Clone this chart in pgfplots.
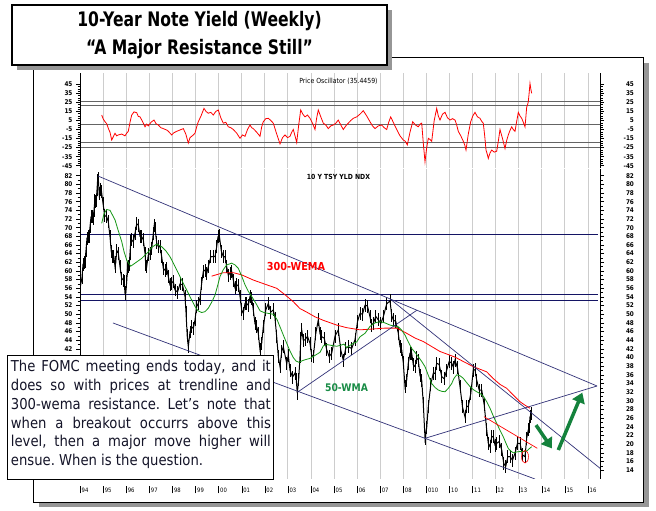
\documentclass[border=0pt]{standalone}
\usepackage{fontspec}
\usepackage{pgfplots}
\pgfplotsset{compat=1.18}
\usetikzlibrary{arrows.meta}
\frenchspacing
\newfontfamily\tah[FakeStretch=0.88]{DejaVu Sans}
\newfontfamily\titlef[FakeStretch=0.78]{DejaVu Sans}
\definecolor{navyh}{RGB}{20,20,100}
\definecolor{navyl}{RGB}{50,50,120}
\definecolor{oscgrid}{RGB}{100,100,100}
\definecolor{vgrid}{RGB}{205,205,205}
\definecolor{wma}{RGB}{20,150,20}
\definecolor{wmalbl}{RGB}{25,140,70}
\definecolor{arrowg}{RGB}{20,130,60}
\definecolor{shadow}{RGB}{150,150,150}
\definecolor{txt}{RGB}{20,20,40}
\newcommand{\yl}[1]{\rule[-0.5pt]{0.6pt}{7pt}\hspace{1.2pt}#1}
\pgfplotsset{
  chartbase/.style={
    scale only axis, width=520pt,
    xmin=80, xmax=600,
    xtick={80,103.09,126.18,149.27,172.36,195.45,218.54,241.63,264.72,287.81,310.9,333.99,357.08,380.17,403.26,426.35,449.44,472.53,495.62,518.71,541.8,564.89,587.98},
    separate axis lines,
    x axis line style={draw=none},
    y axis line style={black, line width=0.6pt},
    xtick style={draw=none},
    tick align=outside,
    major tick length=4pt, minor tick length=2.5pt,
    ytick style={black, line width=0.5pt},
    minor y tick style={black, line width=0.4pt},
    /pgf/number format/assume math mode=true,
    yticklabel style={font=\tah\bfseries\fontsize{6.5}{7}\selectfont},
  },
  lowerbase/.style={chartbase, height=310pt, ymin=11.95, ymax=83.55,
    ytick={14,16,...,82}, minor y tick num=1, at={(80pt,32pt)}, anchor=south west},
  upperbase/.style={chartbase, height=95.5pt, ymin=-48.1, ymax=57.5,
    ytick={-45,-35,...,45}, minor y tick num=3, at={(80pt,342.5pt)}, anchor=south west},
}
\begin{document}
\begin{tikzpicture}
\path[use as bounding box, fill=white] (0,0) rectangle (656pt,511pt);
% frame
\fill[shadow] (39pt,4pt) rectangle (649pt,448pt);
\draw[black, line width=0.8pt, fill=white] (33pt,9pt) rectangle (643pt,454pt);

% upper panel (oscillator)
\begin{axis}[upperbase, xmajorgrids, grid style={vgrid, line width=0.8pt},
  xticklabels=\empty, ytick pos=left, yticklabel pos=left]
\addplot[oscgrid, line width=0.8pt] coordinates {(80,25.8)(600,25.8)};
\addplot[oscgrid, line width=0.8pt] coordinates {(80,21.3)(600,21.3)};
\addplot[oscgrid, line width=0.8pt] coordinates {(80,0.8)(600,0.8)};
\addplot[oscgrid, line width=0.8pt] coordinates {(80,-19)(600,-19)};
\addplot[oscgrid, line width=0.8pt] coordinates {(80,-24.7)(600,-24.7)};
\addplot[red, line width=0.8pt] coordinates {
(101.7,11)(103.3,6.5)(105,3.6)(106.7,1.5)(108.3,-3.7)(110,-8)(111.7,-16.6)(113.3,-13)(115,-9.2)(116.7,-12)(118.3,-11)(121.7,-10)(125,-12)(126.7,-9)(128.3,-7)(130,3)(131.7,11)(134,14.5)(136.7,13.6)(138.3,9.5)(140,9)(142.5,4)(145,-2)(146.7,1)(148.3,-1)(151,3)(154,5.5)(156,1.5)(158.3,0)(160.8,-3)(163.3,-4)(167.5,-6)(171.7,-11)(174,-8.5)(176.7,-7)(180,-5.5)(183.3,-4)(185.8,-10)(188.3,-20)(190,-14)(191.7,-12.5)(193.3,-11)(195,-9)(196.7,-2)(198.3,3.6)(201,10)(204,18.4)(206,15)(208.3,13)(210.8,14)(213.3,11)(215.8,15)(218.3,16.6)(220.8,8)(223.3,2)(225.8,3)(228.3,-2)(230.8,-3)(233.3,-5)(236.7,-9)(240,-14.7)(242.5,-11)(245,-12.5)(247.5,-5)(250,0)(251.7,-3)(253.3,-4)(256.7,-8)(260,-12.5)(261.7,-2)(263.3,3.6)(265.8,7)(268.3,7.4)(270.8,5)(273.3,2)(276.7,-10)(280,-21)(282.5,-14)(285,-11)(287.5,-14)(290,-12.5)(291.7,-8)(293.3,-5)(295,-12)(296.7,-19.5)(298.7,0)(300.7,16.6)(302.8,12)(305,9)(307.5,11)(310,7.4)(312.5,2)(315,-5)(316.7,8)(318.3,16.6)(320.8,9)(323.3,2)(325.8,0)(328.3,-4)(330.8,-1)(333.3,0)(335.8,2)(338.3,5.5)(340.8,0)(343.3,-5)(345.8,-1)(348.3,2)(350.8,5)(353.3,7.4)(356.7,9)(360,12)(363.3,15.8)(366.7,10)(370,3.6)(372.5,-1)(375,-4)(378.3,-1)(381.7,0)(384.2,-3)(386.7,-5)(388.7,3)(390.7,9)(393.7,2)(396.7,-5)(400,-12)(403.3,-16.6)(405.3,-18)(407.3,-22)(410,-8)(412.7,3.6)(415.5,0)(418.3,-2)(420,1)(421.7,2)(423.3,-20)(425,-40.6)(426.7,-25)(428.3,-14.7)(430,-16)(431.7,-18)(434.2,5)(436.7,18.4)(438.3,10)(440,5.5)(442.5,12)(445,14)(447.5,8)(450,5.5)(452.5,7)(455,5.5)(456.7,0)(458.3,-7)(460.8,-12)(463.3,-18)(464.7,-22)(466,-27.7)(468.3,-10)(470.7,3.6)(472.8,10)(475,14)(477.5,9)(480,7.4)(481.7,4)(483.3,2)(484.7,-12)(486,-27.7)(487.2,-32)(488.3,-36.9)(490,-31)(491.7,-27.7)(494.2,-30)(496.7,-29)(498.3,-18)(500,-5)(502.5,-15)(505,-26)(506.7,-17)(508.3,-11)(510,-6)(511.7,-2)(513.3,-5)(515,-7)(516.7,4)(518.3,14)(520,10)(521.7,7.4)(523.3,3)(525,-2)(525.8,8)(526.7,20)(527.5,22)(528.3,25.8)(529.2,36)(530,46)(530.8,40)(531.7,35)};
\end{axis}
\begin{axis}[upperbase, xticklabels=\empty, ytick pos=right, yticklabel pos=right,
  yticklabel style={anchor=east, xshift=33.5pt}]
\end{axis}

% lower panel (price)
\begin{axis}[lowerbase, xmajorgrids, grid style={vgrid, line width=0.8pt},
  ytick={42,44,...,82}, ytick pos=left, yticklabel pos=left,
  xticklabels={\yl{94},\yl{95},\yl{96},\yl{97},\yl{98},\yl{99},\yl{00},\yl{01},\yl{02},\yl{03},\yl{04},\yl{05},\yl{06},\yl{07},\yl{08},\yl{010},\yl{10},\yl{11},\yl{12},\yl{13},\yl{14},\yl{15},\yl{16}},
  xticklabel style={anchor=north west, inner sep=0pt, yshift=-3.3pt, xshift=-0.3pt, font=\tah\fontsize{6}{6.5}\selectfont}]
% horizontal resistance lines
\addplot[navyh, line width=0.9pt] coordinates {(80,68.5)(598,68.5)};
\addplot[navyh, line width=0.9pt] coordinates {(80,54.6)(598,54.6)};
\addplot[navyh, line width=0.9pt] coordinates {(80,53.1)(598,53.1)};
% price (weekly)
\addplot[black, line width=1pt, error bars/.cd, y dir=both, y fixed=1.5, error mark=none,
  error bar style={black, line width=0.8pt}] coordinates {
(79,57.2)(80.5,56.6)(82,58.5)(83,61.5)(84,62)(85,62.2)(86,64.8)(87,67.6)(88,67.9)(89,67.9)(90,70.2)(91,72.5)(92,72.5)(93,72)(94,74)(94.8,76.2)(95.5,76)(96.2,76.2)(97,78.7)(97.6,81)(98.3,81.4)(99.2,77.8)(100,78.7)(101.5,78.4)(103,75.6)(104.8,72.8)(106.7,72.5)(108.3,71.4)(110,67.9)(111.3,64.4)(112.7,63.3)(113.8,63.4)(115,61)(115.8,62)(116.7,64.8)(118.3,64.1)(120,61)(121.7,58.3)(123.3,57.9)(124.2,57.5)(125,54.8)(125.8,55)(126.7,57.5)(127.5,60.5)(128.3,61)(129.2,61.4)(130,64.1)(130.8,66.9)(131.7,67.2)(133.3,66.7)(135,68.7)(136.7,70.9)(138.3,70.6)(140,68)(141.7,67.9)(143.3,67.2)(145,64.1)(145.8,61.4)(146.7,61)(148.3,63.7)(150,64)(151.7,65.1)(153.3,68.7)(154.2,70.5)(155,69.9)(156.7,66.5)(158.3,65.6)(160,65.6)(161.7,63.3)(163.3,60.6)(165,60.2)(166.7,60.6)(168.3,58.7)(170,56.8)(171.7,57.2)(173.3,57.6)(175,55.6)(177.5,55.1)(180,57)(182.5,56.8)(185,54.1)(186,50.5)(187.2,45)(188.3,42.5)(190,45.9)(191.7,47.1)(193.3,46.7)(195,48.7)(196.7,51.8)(198.3,52.5)(200,53.7)(201.7,57.2)(203.3,59.9)(205,60.2)(206.7,59.4)(208.3,61)(210.8,63.3)(213.3,63.3)(215,63.3)(216.7,65.6)(218,67.9)(219.3,68.3)(221.3,64.6)(223.3,63.3)(225,63.3)(226.7,61)(228.3,59)(230,59.5)(231.7,59.9)(233.3,57.9)(235,56.1)(236.7,56.8)(238.3,56.6)(240,54.1)(241.7,51)(243.3,50.2)(245,52.5)(246.7,52.5)(248.3,52.1)(250,54.1)(251.7,53.7)(253.3,51)(255,47.8)(256.7,47.1)(258.3,45.6)(260,41.8)(261.7,43.3)(263.3,47.1)(265.8,51)(268.3,52.5)(270.8,50.5)(273.3,51)(275,49.1)(276.7,44.8)(278.3,40.2)(280,37.9)(281.7,41.4)(283.3,42.5)(286.7,38.6)(288.3,40.5)(290,37.1)(292.5,35.5)(295,36.4)(296.2,35)(297.3,31.8)(298.7,35)(300,40.2)(300.8,44.5)(301.7,46.4)(303.3,44)(305,44.1)(307.5,44.9)(310,43.3)(311.7,40.5)(313.3,40.2)(315.8,45.6)(318.3,48.7)(320,45.5)(321.7,44.8)(324.2,44.5)(326.7,41.8)(329.2,40.2)(331.7,41)(335,44.9)(338.3,46.4)(340.8,41.7)(343.3,39.4)(345.8,42.2)(348.3,42.5)(351.7,42.1)(355,44.1)(357.5,48.3)(360,50.2)(362.5,50)(365,52.1)(367.5,51.9)(370,49.4)(371.7,47.5)(373.3,47.9)(375.8,49.5)(378.3,48.7)(380.8,47.9)(383.3,49.4)(386.7,52.4)(390,53.1)(391.7,49.7)(393.3,48.7)(395.8,48.3)(398.3,45.6)(400,42.5)(401.7,41.8)(403.3,38.8)(405,33.3)(406.7,34.8)(408.3,38.7)(410,41)(411.7,41)(413.3,38.3)(415,37.9)(416.7,39.9)(418.3,39.4)(420,35.9)(421.7,34.8)(423.3,29.3)(425,21.4)(426.7,23.8)(428.3,28.7)(430.8,33.8)(433.3,36.4)(435,36.3)(436.7,38.7)(439.2,38.4)(441.7,35.6)(444.2,35.1)(446.7,37.1)(449.2,39.1)(451.7,38.7)(453.3,37.8)(455,39.4)(457.5,37.6)(460,33.3)(462.5,28.6)(465,26.3)(466.7,28.7)(468.3,28.7)(470.8,31.7)(473.3,37.1)(475,37.2)(476.7,34.8)(479.2,32.5)(481.7,32.5)(484.2,29.1)(486.7,23.3)(488.3,20.2)(490,19.4)(491.7,21.8)(493.3,21.7)(495,19.8)(496.7,20.2)(499.2,20.6)(501.7,18.7)(503.7,15.6)(505.7,14.8)(507.8,17.1)(510,17.1)(512.5,16.3)(515,17.9)(517.5,20.2)(520,20.2)(522.5,17.5)(525,17.1)(526.7,21.4)(528.3,23.3)(529.2,24)(530,26.3)(531.7,27.1)};
% 300-WEMA
\addplot[red, line width=0.8pt] coordinates {
(211.7,58.8)(223.3,59.6)(233.3,59.6)(241.7,59.1)(253.3,57.9)(266.7,56.8)(276.7,56.0)(285,54.5)(293.3,52.9)(300,51.3)(306.7,50.5)(315,49.4)(323.3,48.6)(336.7,47.5)(346.7,46.9)(360,46.4)(373.3,46.6)(385,46.8)(396.7,46.8)(406.7,45.6)(415,44.5)(423.3,43.7)(432,42.5)(440,41.4)(447,40.8)(455,40.1)(464,39)(473.3,37.9)(480,37.3)(486.7,36.7)(493,35.2)(500,33.8)(506.7,32.9)(513,31.4)(520,29.8)(525,29.0)(530,28.3)};
% 50-WMA
\addplot[wma, line width=0.8pt] coordinates {
(101.7,71.0)(104,73.2)(106.7,74.2)(110,74.0)(115,71.8)(118,69.5)(121.7,66.8)(124,64.5)(126.7,62.5)(130.7,61.1)(135,61.8)(141.7,62.9)(148.3,64.4)(152,65.5)(156.7,66.2)(161.7,65.6)(166,64.6)(170,63.3)(174,61.5)(178.3,59.5)(182.5,57.5)(186.7,55.6)(191,53.6)(195,51.8)(198,50.8)(201.7,50.4)(205,50.6)(208.3,51.4)(211.7,52.8)(215,54.4)(217.5,56.5)(220,58.7)(223.3,60.3)(226.7,61.4)(231.7,61.8)(235,61.4)(238.3,60.6)(241.7,58.8)(245,56.8)(248.3,55.3)(251.7,54.1)(256,52.5)(260,50.8)(264,50.4)(268.3,50.2)(273.3,50.0)(277,48.8)(280,47.1)(283.3,45.2)(286.7,43.3)(290,41.5)(293.3,40.0)(296,39.2)(299,38.9)(302.5,39.3)(306.7,39.6)(310,39.8)(315,40.5)(320,41.2)(323.3,42.7)(326.7,43.0)(331.7,42.8)(336.7,42.6)(340,42.8)(344,43.1)(346.7,42.3)(350,42.8)(353.3,43.3)(356.7,43.6)(360,44.8)(365,45.6)(370,47.2)(375,48.0)(380,48.3)(385,48.0)(390,47.5)(394,47.3)(398.3,47.1)(401.7,46.3)(405,45.2)(408.3,43.6)(411.7,42.1)(415,41.2)(418.3,40.2)(421.7,39.1)(425,37.9)(428.3,35.9)(431.7,34.0)(435,33.1)(438.3,32.5)(441.7,32.2)(445,32.1)(448.3,32.9)(451.7,34.0)(454,35.2)(456.7,36.0)(460,35.8)(463.3,35.2)(466.7,34.2)(470,33.3)(473.3,32.6)(476.7,32.1)(480,31.7)(483.3,31.1)(486.7,29.8)(490,28.3)(493.3,26.5)(496.7,24.8)(500,23.2)(503.3,21.7)(505.8,20.3)(508.3,19.0)(510.8,18.4)(513.3,18.0)(516.7,18.2)(520,18.3)(523.3,18.3)(526.7,18.4)(529,18.9)(531.7,19.4)};
% trendlines
\addplot[navyl, line width=0.7pt] coordinates {(98,81.93)(597,33.43)};
\addplot[navyl, line width=0.7pt] coordinates {(390,53.55)(600,14.43)};
\addplot[navyl, line width=0.7pt] coordinates {(297.5,32.0)(416.7,50.9)};
\addplot[navyl, line width=0.7pt] coordinates {(113,47.98)(535,11.95)};
\addplot[navyl, line width=0.7pt] coordinates {(425,21.34)(597,33.43)};
\addplot[red, line width=0.7pt] coordinates {(484,26.34)(537.3,19.04)};
\addplot[red, only marks, mark=o, mark size=6.3pt, mark options={xscale=0.55, line width=0.6pt}] coordinates {(525,17.1)};
% arrows
\addplot[arrowg, line width=3.5pt, -{Triangle[length=10pt,width=13pt]}] coordinates {(536,24.4)(552,19.0)};
\addplot[arrowg, line width=3.5pt, -{Triangle[length=10pt,width=13pt]}] coordinates {(558.3,18.65)(582.3,31.9)};
\end{axis}
\begin{axis}[lowerbase, xticklabels=\empty, ytick pos=right, yticklabel pos=right,
  yticklabel style={anchor=east, xshift=33.5pt}]
\end{axis}

% chart texts
\node[font=\tah\fontsize{7}{8}\selectfont] at (338.5pt,429.5pt) {Price Oscillator (35.4459)};
\node[font=\tah\bfseries\fontsize{7}{8}\selectfont] at (338.5pt,334pt) {10 Y TSY YLD NDX};
\node[font=\tah\bfseries\fontsize{11}{13}\selectfont, text=red] at (296pt,244.5pt) {300-WEMA};
\node[font=\tah\bfseries\fontsize{10.5}{12}\selectfont, text=wmalbl] at (346.5pt,123pt) {50-WMA};

% title box
\fill[shadow] (17pt,441pt) rectangle (392pt,501pt);
\draw[black, line width=1.2pt, fill=white] (12pt,446pt) rectangle (387pt,506pt);
\node[anchor=base, inner sep=0pt] at (199.5pt,484.3pt) {\titlef\bfseries\fontsize{20}{24}\selectfont 10-Year Note Yield (Weekly)};
\node[anchor=base, inner sep=0pt] at (199.5pt,456.5pt) {\titlef\bfseries\fontsize{20}{24}\selectfont “A Major Resistance Still”};

% comment box
\draw[black, line width=0.9pt, fill=white] (7pt,32pt) rectangle (273pt,156pt);
\begin{scope}[every node/.style={anchor=base west, inner sep=0pt, text=txt, font=\tah\fontsize{15}{18}\selectfont}]
\node at (10.7pt,139.3pt) {\makebox[260pt][s]{The FOMC meeting ends today, and it}};
\node at (10.7pt,120.5pt) {\makebox[260pt][s]{does so with prices at trendline and}};
\node at (10.7pt,101.7pt) {\makebox[260pt][s]{300-wema resistance. Let’s note that}};
\node at (10.7pt,82.9pt) {\makebox[260pt][s]{when a breakout occurrs above this}};
\node at (10.7pt,64.1pt) {\makebox[260pt][s]{level, then a major move higher will}};
\node at (10.7pt,45.3pt) {\makebox[260pt][l]{ensue. When is the question.}};
\end{scope}
\end{tikzpicture}
\end{document}
